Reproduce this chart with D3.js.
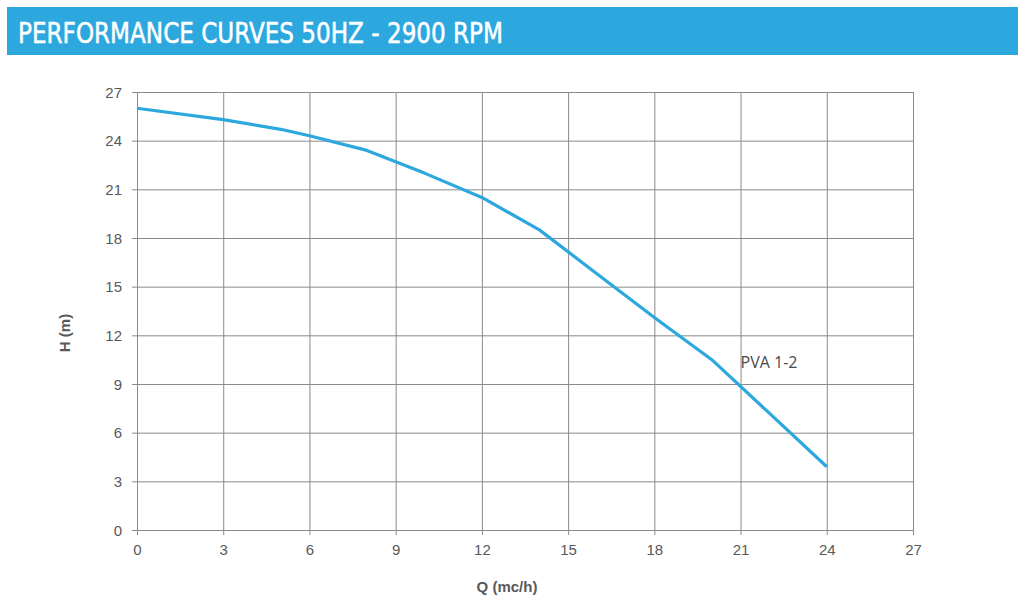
<!DOCTYPE html>
<html>
<head>
<meta charset="utf-8">
<script src="https://cdn.jsdelivr.net/npm/d3@7"></script>
<style>
  html, body { margin: 0; padding: 0; background: #fff; }
  svg { display: block; }
</style>
</head>
<body>
<div id="chart"></div>
<script>
// performance curve PVA 1-2
var flow = [ 0, 3, 5, 6, 8, 10, 12, 14, 16, 18, 20, 22, 24 ];
var head = [ 26.0, 25.3, 24.7, 24.3, 23.4, 22.0, 20.5, 18.5, 15.8, 13.1, 10.5, 7.2, 3.9 ];
var xTicks = [ 0, 3, 6, 9, 12, 15, 18, 21, 24, 27 ];
var yTicks = [ 0, 3, 6, 9, 12, 15, 18, 21, 24, 27 ];
var seriesName = "PVA 1-2";
var title = "PERFORMANCE CURVES 50HZ - 2900 RPM";

var width = 1024, height = 611;
var plot = { left: 137, right: 913, top: 92, bottom: 530 };

var svg = d3.select( "#chart" ).append( "svg" )
  .attr( "width", width )
  .attr( "height", height );

// title banner
svg.append( "rect" )
  .attr( "x", 7 ).attr( "y", 7 )
  .attr( "width", 1011 ).attr( "height", 48 )
  .attr( "fill", "#2ca8df" );
svg.append( "text" )
  .attr( "x", 18 ).attr( "y", 43 )
  .attr( "fill", "#fff" )
  .attr( "stroke", "#fff" )
  .attr( "stroke-width", 0.5 )
  .attr( "font-family", "'Liberation Sans Narrow', 'DejaVu Sans Condensed', sans-serif" )
  .attr( "font-size", 29 )
  .attr( "textLength", 485 )
  .attr( "lengthAdjust", "spacingAndGlyphs" )
  .text( title );

var x = d3.scaleLinear().domain( [ 0, 27 ] ).range( [ plot.left, plot.right ] );
var y = d3.scaleLinear().domain( [ 0, 27 ] ).range( [ plot.bottom, plot.top ] );

var gridColor = "#8a8a8a";
var labelColor = "#595959";

// grid + axes
var xAxis = svg.append( "g" )
  .attr( "transform", "translate(0," + plot.bottom + ")" )
  .call( d3.axisBottom( x ).tickValues( xTicks ).tickFormat( d3.format( "d" ) )
    .tickSizeInner( -( plot.bottom - plot.top ) ).tickSizeOuter( 0 ).tickPadding( 0 ) );
var yAxis = svg.append( "g" )
  .attr( "transform", "translate(" + plot.left + ",0)" )
  .call( d3.axisLeft( y ).tickValues( yTicks ).tickFormat( d3.format( "d" ) )
    .tickSizeInner( -( plot.right - plot.left ) ).tickSizeOuter( 0 ).tickPadding( 0 ) );

[ xAxis, yAxis ].forEach( function( g ) {
  g.select( ".domain" ).remove();
  g.selectAll( "line" ).attr( "stroke", gridColor ).attr( "stroke-width", 1 );
  g.selectAll( "text" )
    .attr( "fill", labelColor )
    .attr( "font-family", "Arial, 'Liberation Sans', sans-serif" )
    .attr( "font-size", 15 );
} );

// little tick stubs outside the plot
xAxis.selectAll( ".tick" ).append( "line" )
  .attr( "y1", 0 ).attr( "y2", 5 ).attr( "stroke", gridColor );
yAxis.selectAll( ".tick" ).append( "line" )
  .attr( "x1", 0 ).attr( "x2", -5 ).attr( "stroke", gridColor );
xAxis.selectAll( ".tick text" ).attr( "y", 14 ).attr( "dy", "0.71em" );
yAxis.selectAll( ".tick text" ).attr( "x", -15 ).attr( "dy", "0.35em" );

// axis titles
svg.append( "text" )
  .attr( "x", 507 ).attr( "y", 592 )
  .attr( "text-anchor", "middle" )
  .attr( "fill", labelColor )
  .attr( "font-family", "Arial, 'Liberation Sans', sans-serif" )
  .attr( "font-size", 15 )
  .attr( "font-weight", "bold" )
  .text( "Q (mc/h)" );
svg.append( "text" )
  .attr( "transform", "translate(70,333) rotate(-90)" )
  .attr( "text-anchor", "middle" )
  .attr( "fill", labelColor )
  .attr( "font-family", "Arial, 'Liberation Sans', sans-serif" )
  .attr( "font-size", 15 )
  .attr( "font-weight", "bold" )
  .text( "H (m)" );

// curve
var points = flow.map( function( q, i ) { return [ q, head[ i ] ]; } );
var line = d3.line()
  .x( function( d ) { return x( d[ 0 ] ); } )
  .y( function( d ) { return y( d[ 1 ] ); } );
svg.append( "path" )
  .datum( points )
  .attr( "d", line )
  .attr( "fill", "none" )
  .attr( "stroke", "#2ca8df" )
  .attr( "stroke-width", 3.2 )
  .attr( "stroke-linejoin", "round" );

// series label
svg.append( "text" )
  .attr( "x", x( 21 ) ).attr( "y", y( 10 ) )
  .attr( "fill", "#4a4a4a" )
  .attr( "font-family", "'Open Sans', 'Noto Sans', sans-serif" )
  .attr( "font-size", 16 )
  .text( seriesName );
</script>
</body>
</html>
